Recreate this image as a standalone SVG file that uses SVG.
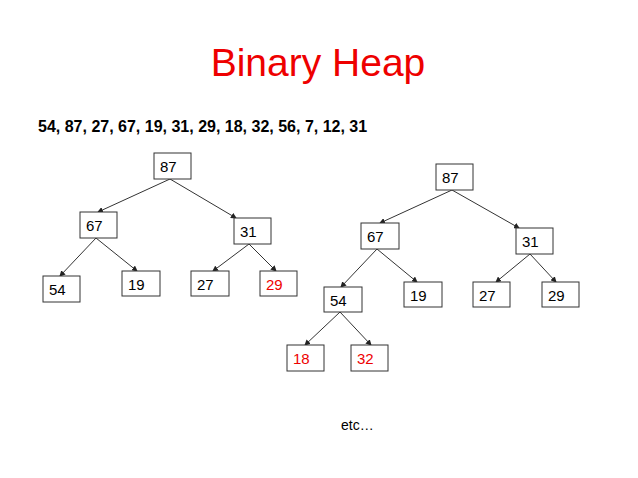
<svg xmlns="http://www.w3.org/2000/svg" width="638" height="478" viewBox="0 0 638 478">
<style>
text{font-family:"Liberation Sans",Arial,sans-serif}
.n rect{fill:#fff;stroke:#333;stroke-width:1}
.n text{font-size:15px;fill:#000}
.r text{fill:#e00}
#edges line{stroke:#333;stroke-width:1;marker-end:url(#a)}
</style>
<defs><marker id="a" markerWidth="6" markerHeight="6" refX="5" refY="3" orient="auto" markerUnits="userSpaceOnUse"><path d="M0,0L6,3L0,6z" fill="#222"/></marker></defs>
<rect width="638" height="478" fill="#fff"/>
<text x="318" y="76" font-size="39" fill="#e00" text-anchor="middle">Binary Heap</text>
<text x="38" y="132" font-size="16" font-weight="bold">54, 87, 27, 67, 19, 31, 29, 18, 32, 56, 7, 12, 31</text>
<g id="edges">
<line x1="170" y1="179" x2="98" y2="212"/><line x1="170" y1="179" x2="236" y2="218"/>
<line x1="96" y1="238" x2="60" y2="276"/><line x1="96" y1="238" x2="137" y2="271"/>
<line x1="249" y1="244" x2="213" y2="271"/><line x1="249" y1="244" x2="276" y2="271"/>
<line x1="452" y1="190" x2="380" y2="223"/><line x1="452" y1="190" x2="519" y2="228"/>
<line x1="377" y1="249" x2="341" y2="287"/><line x1="377" y1="249" x2="417" y2="282"/>
<line x1="530" y1="254" x2="496" y2="282"/><line x1="530" y1="254" x2="556" y2="282"/>
<line x1="340" y1="312" x2="305" y2="345"/><line x1="340" y1="312" x2="371" y2="345"/>
</g>
<g id="L87" class="n"><rect x="154" y="153" width="37" height="26"/><text x="160" y="172">87</text></g>
<g id="L67" class="n"><rect x="80" y="212" width="37" height="26"/><text x="86" y="231">67</text></g>
<g id="L31" class="n"><rect x="234" y="218" width="37" height="26"/><text x="240" y="237">31</text></g>
<g id="L54" class="n"><rect x="43" y="276" width="37" height="26"/><text x="49" y="295">54</text></g>
<g id="L19" class="n"><rect x="122" y="271" width="38" height="25"/><text x="128" y="290">19</text></g>
<g id="L27" class="n"><rect x="191" y="271" width="38" height="25"/><text x="197" y="290">27</text></g>
<g id="L29" class="n r"><rect x="260" y="271" width="37" height="25"/><text x="266" y="290">29</text></g>
<g id="R87" class="n"><rect x="436" y="164" width="37" height="26"/><text x="442" y="183">87</text></g>
<g id="R67" class="n"><rect x="361" y="223" width="38" height="26"/><text x="367" y="242">67</text></g>
<g id="R31" class="n"><rect x="516" y="228" width="37" height="26"/><text x="522" y="247">31</text></g>
<g id="R54" class="n"><rect x="324" y="287" width="38" height="25"/><text x="330" y="306">54</text></g>
<g id="R19" class="n"><rect x="404" y="282" width="38" height="25"/><text x="410" y="301">19</text></g>
<g id="R27" class="n"><rect x="473" y="282" width="37" height="25"/><text x="479" y="301">27</text></g>
<g id="R29" class="n"><rect x="542" y="282" width="37" height="25"/><text x="548" y="301">29</text></g>
<g id="R18" class="n r"><rect x="287" y="345" width="37" height="26"/><text x="293" y="364">18</text></g>
<g id="R32" class="n r"><rect x="351" y="345" width="37" height="26"/><text x="357" y="364">32</text></g>
<text x="341" y="430" font-size="14">etc…</text>
</svg>
